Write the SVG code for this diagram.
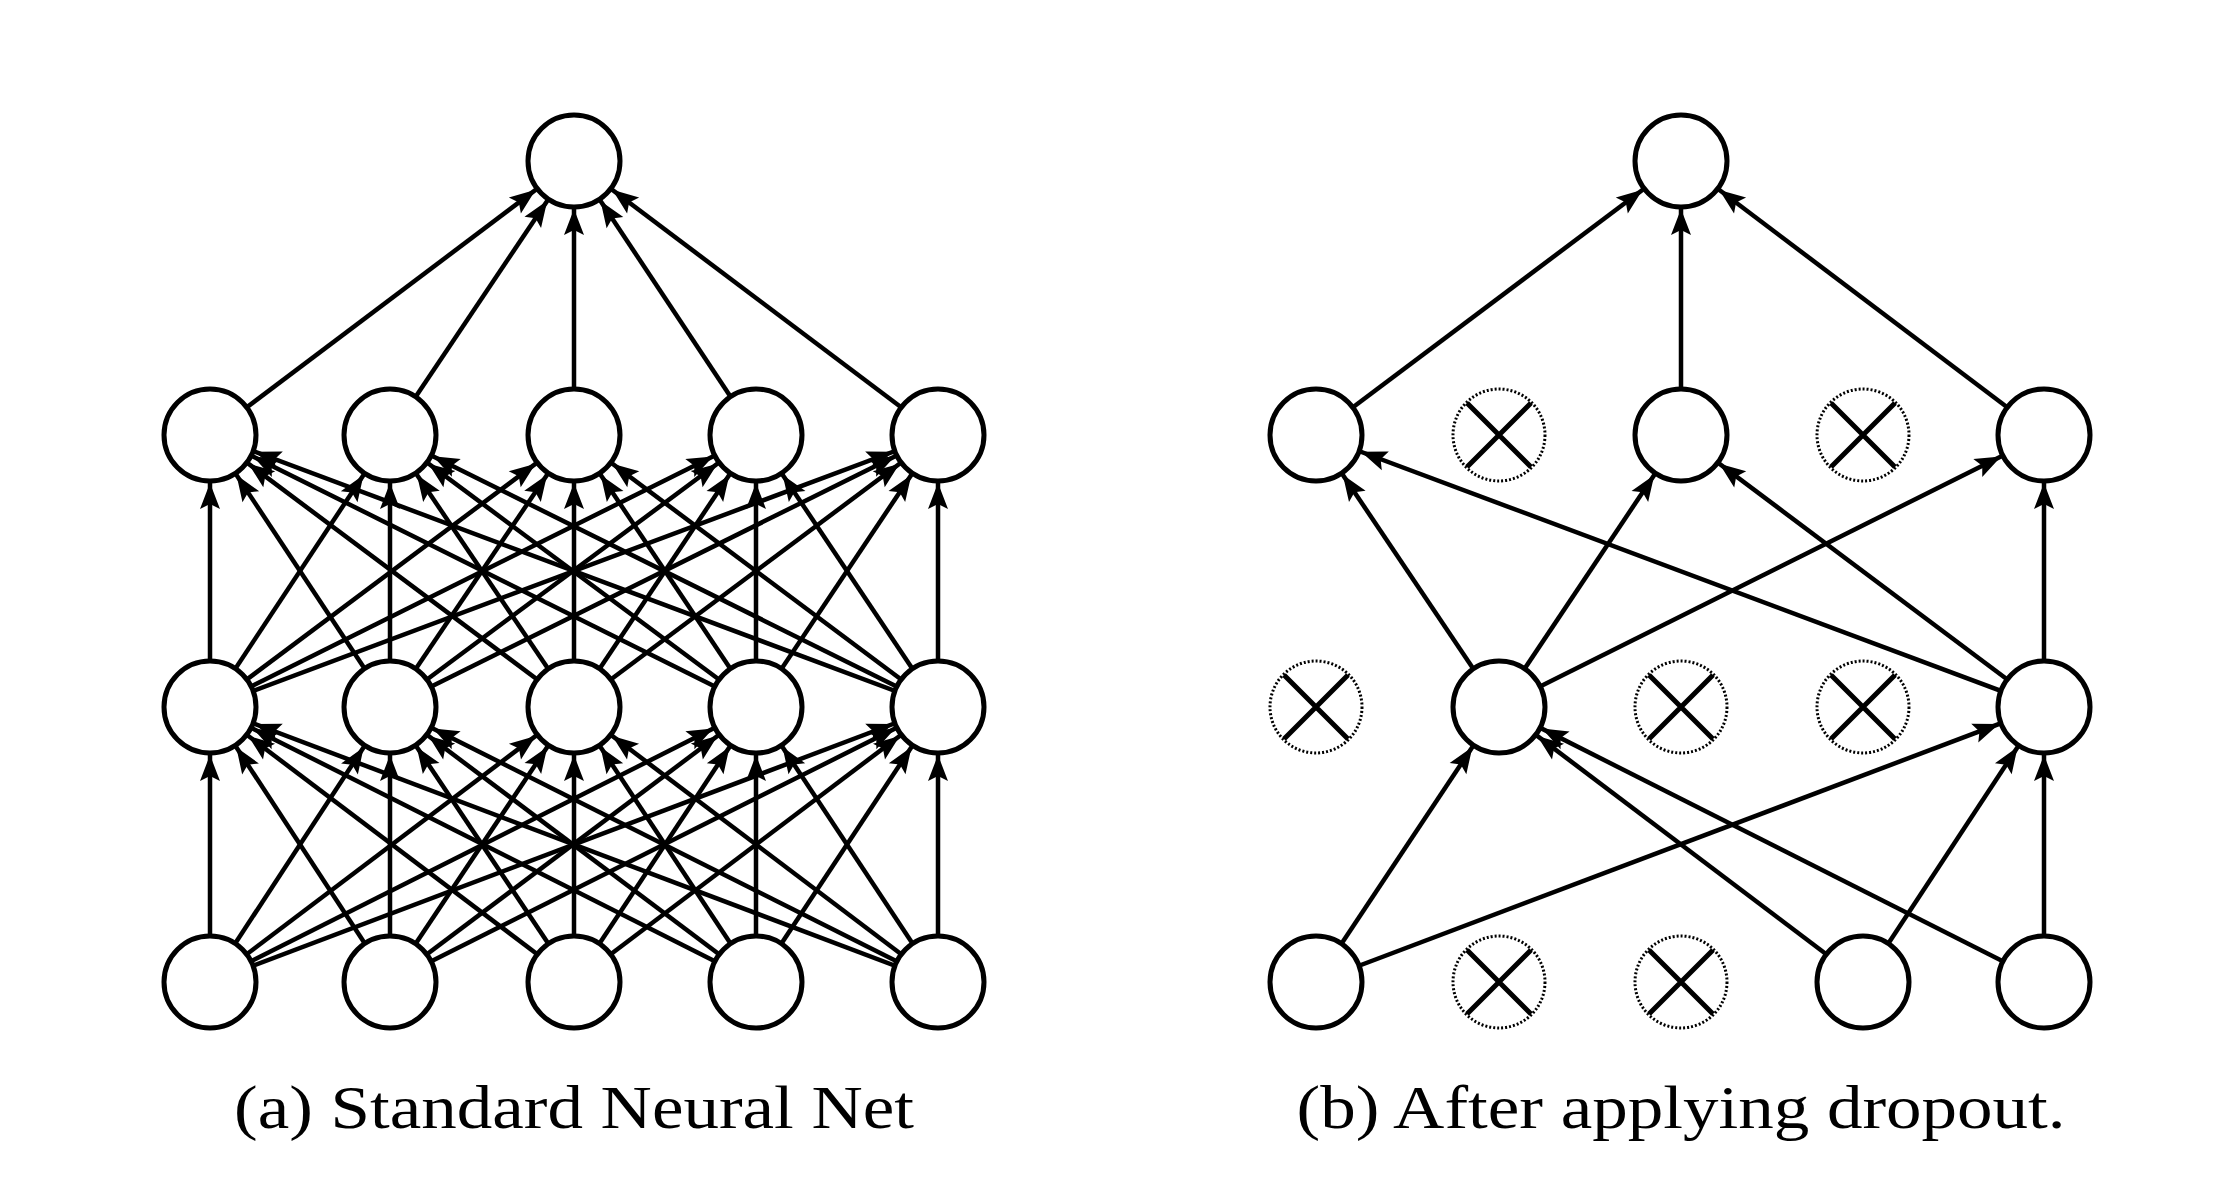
<svg xmlns="http://www.w3.org/2000/svg" width="2238" height="1198" viewBox="0 0 2238 1198">
<style>
.c{fill:#fff;stroke:#000;stroke-width:5}
.d{fill:#fff;stroke:#000;stroke-width:3;stroke-dasharray:2 2}
.x{stroke:#000;stroke-width:5}
#edges line{stroke:#000;stroke-width:4.5;marker-end:url(#ah)}
text{font-family:"Liberation Serif","DejaVu Serif",serif;font-size:62px;text-anchor:middle}
</style>
<defs>
<marker id="ah" markerUnits="userSpaceOnUse" viewBox="-30 -12 80 24" refX="48" refY="0" markerWidth="80" markerHeight="24" orient="auto" overflow="visible">
<path d="M0,0 L-26,-10 L-21,0 L-26,10 Z" fill="#000"/>
</marker>
</defs>
<rect width="2238" height="1198" fill="#fff"/>
<g id="edges">
<line x1="210" y1="982" x2="210" y2="707"/><line x1="210" y1="982" x2="390" y2="707"/><line x1="210" y1="982" x2="574" y2="707"/><line x1="210" y1="982" x2="756" y2="707"/><line x1="210" y1="982" x2="938" y2="707"/>
<line x1="390" y1="982" x2="210" y2="707"/><line x1="390" y1="982" x2="390" y2="707"/><line x1="390" y1="982" x2="574" y2="707"/><line x1="390" y1="982" x2="756" y2="707"/><line x1="390" y1="982" x2="938" y2="707"/>
<line x1="574" y1="982" x2="210" y2="707"/><line x1="574" y1="982" x2="390" y2="707"/><line x1="574" y1="982" x2="574" y2="707"/><line x1="574" y1="982" x2="756" y2="707"/><line x1="574" y1="982" x2="938" y2="707"/>
<line x1="756" y1="982" x2="210" y2="707"/><line x1="756" y1="982" x2="390" y2="707"/><line x1="756" y1="982" x2="574" y2="707"/><line x1="756" y1="982" x2="756" y2="707"/><line x1="756" y1="982" x2="938" y2="707"/>
<line x1="938" y1="982" x2="210" y2="707"/><line x1="938" y1="982" x2="390" y2="707"/><line x1="938" y1="982" x2="574" y2="707"/><line x1="938" y1="982" x2="756" y2="707"/><line x1="938" y1="982" x2="938" y2="707"/>
<line x1="210" y1="707" x2="210" y2="435"/><line x1="210" y1="707" x2="390" y2="435"/><line x1="210" y1="707" x2="574" y2="435"/><line x1="210" y1="707" x2="756" y2="435"/><line x1="210" y1="707" x2="938" y2="435"/>
<line x1="390" y1="707" x2="210" y2="435"/><line x1="390" y1="707" x2="390" y2="435"/><line x1="390" y1="707" x2="574" y2="435"/><line x1="390" y1="707" x2="756" y2="435"/><line x1="390" y1="707" x2="938" y2="435"/>
<line x1="574" y1="707" x2="210" y2="435"/><line x1="574" y1="707" x2="390" y2="435"/><line x1="574" y1="707" x2="574" y2="435"/><line x1="574" y1="707" x2="756" y2="435"/><line x1="574" y1="707" x2="938" y2="435"/>
<line x1="756" y1="707" x2="210" y2="435"/><line x1="756" y1="707" x2="390" y2="435"/><line x1="756" y1="707" x2="574" y2="435"/><line x1="756" y1="707" x2="756" y2="435"/><line x1="756" y1="707" x2="938" y2="435"/>
<line x1="938" y1="707" x2="210" y2="435"/><line x1="938" y1="707" x2="390" y2="435"/><line x1="938" y1="707" x2="574" y2="435"/><line x1="938" y1="707" x2="756" y2="435"/><line x1="938" y1="707" x2="938" y2="435"/>
<line x1="210" y1="435" x2="574" y2="161"/><line x1="390" y1="435" x2="574" y2="161"/><line x1="574" y1="435" x2="574" y2="161"/><line x1="756" y1="435" x2="574" y2="161"/><line x1="938" y1="435" x2="574" y2="161"/>
<line x1="1316" y1="435" x2="1681" y2="161"/><line x1="1681" y1="435" x2="1681" y2="161"/><line x1="2044" y1="435" x2="1681" y2="161"/>
<line x1="1499" y1="707" x2="1316" y2="435"/><line x1="1499" y1="707" x2="1681" y2="435"/><line x1="1499" y1="707" x2="2044" y2="435"/>
<line x1="2044" y1="707" x2="1316" y2="435"/><line x1="2044" y1="707" x2="1681" y2="435"/><line x1="2044" y1="707" x2="2044" y2="435"/>
<line x1="1316" y1="982" x2="1499" y2="707"/><line x1="1863" y1="982" x2="1499" y2="707"/><line x1="2044" y1="982" x2="1499" y2="707"/>
<line x1="1316" y1="982" x2="2044" y2="707"/><line x1="1863" y1="982" x2="2044" y2="707"/><line x1="2044" y1="982" x2="2044" y2="707"/>
</g>
<g id="netA">
<circle class="c" cx="574" cy="161" r="46"/>
<circle class="c" cx="210" cy="435" r="46"/><circle class="c" cx="390" cy="435" r="46"/><circle class="c" cx="574" cy="435" r="46"/><circle class="c" cx="756" cy="435" r="46"/><circle class="c" cx="938" cy="435" r="46"/>
<circle class="c" cx="210" cy="707" r="46"/><circle class="c" cx="390" cy="707" r="46"/><circle class="c" cx="574" cy="707" r="46"/><circle class="c" cx="756" cy="707" r="46"/><circle class="c" cx="938" cy="707" r="46"/>
<circle class="c" cx="210" cy="982" r="46"/><circle class="c" cx="390" cy="982" r="46"/><circle class="c" cx="574" cy="982" r="46"/><circle class="c" cx="756" cy="982" r="46"/><circle class="c" cx="938" cy="982" r="46"/>
</g>
<g id="netB">
<circle class="c" cx="1681" cy="161" r="46"/>
<circle class="c" cx="1316" cy="435" r="46"/><circle class="c" cx="1681" cy="435" r="46"/><circle class="c" cx="2044" cy="435" r="46"/>
<circle class="c" cx="1499" cy="707" r="46"/><circle class="c" cx="2044" cy="707" r="46"/>
<circle class="c" cx="1316" cy="982" r="46"/><circle class="c" cx="1863" cy="982" r="46"/><circle class="c" cx="2044" cy="982" r="46"/>
</g>
<g id="dropped">
<g transform="translate(1499,435)"><circle class="d" r="46"/><path class="x" d="M-32,-32L32,32M32,-32L-32,32"/></g>
<g transform="translate(1863,435)"><circle class="d" r="46"/><path class="x" d="M-32,-32L32,32M32,-32L-32,32"/></g>
<g transform="translate(1316,707)"><circle class="d" r="46"/><path class="x" d="M-32,-32L32,32M32,-32L-32,32"/></g>
<g transform="translate(1681,707)"><circle class="d" r="46"/><path class="x" d="M-32,-32L32,32M32,-32L-32,32"/></g>
<g transform="translate(1863,707)"><circle class="d" r="46"/><path class="x" d="M-32,-32L32,32M32,-32L-32,32"/></g>
<g transform="translate(1499,982)"><circle class="d" r="46"/><path class="x" d="M-32,-32L32,32M32,-32L-32,32"/></g>
<g transform="translate(1681,982)"><circle class="d" r="46"/><path class="x" d="M-32,-32L32,32M32,-32L-32,32"/></g>
</g>
<g id="captions">
<text x="574" y="1128" textLength="680" lengthAdjust="spacingAndGlyphs">(a) Standard Neural Net</text>
<text x="1681" y="1128" textLength="769" lengthAdjust="spacingAndGlyphs">(b) After applying dropout.</text>
</g>
</svg>
